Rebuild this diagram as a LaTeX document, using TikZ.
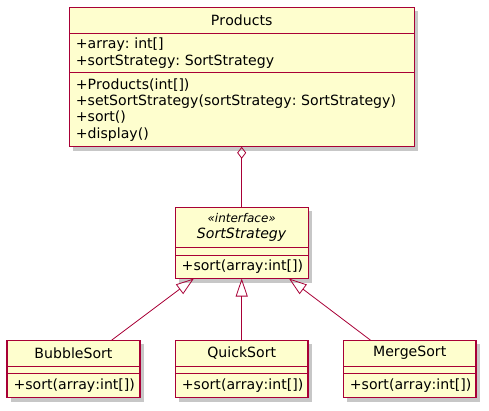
\documentclass[tikz,border=0pt]{standalone}
\usepackage{fontspec}
\setmainfont{DejaVu Sans}[Kerning=Off]
\usepackage{tikz}
\usetikzlibrary{positioning,shadows,arrows.meta}
\tikzstyle{classbox} = [rectangle, draw=umlred, fill=umlyellow, line width=1.1pt, inner xsep=6.5pt, inner ysep=0pt, outer sep=0pt, font=\fontsize{14.1}{16.3}\selectfont\frenchspacing, drop shadow={shadow xshift=4pt, shadow yshift=-4pt, fill=black!22, opacity=1}]
\tikzstyle{classhead} = [classbox, align=center, minimum height=26.2pt]
\tikzstyle{classpart} = [classbox, align=left]
\tikzstyle{aggr} = [draw=umlred, line width=0.8pt, {Diamond[open, length=12pt, width=9pt]}-]
\tikzstyle{inherit} = [draw=umlred, line width=0.8pt, -{Triangle[open, length=18pt, width=12pt]}]
\definecolor{umlred}{RGB}{168,0,54}
\definecolor{umlyellow}{RGB}{254,254,206}
\newcommand{\stereo}[1]{{\fontsize{12}{14}\selectfont\itshape «#1»}}

\begin{document}
\begin{tikzpicture}[x=1pt, y=1pt, node distance=0pt]
\useasboundingbox (0,0) rectangle (489,-411);
% context class
\node (prod) [classhead, text width=331.7pt, anchor=north] at (241.7,-7.3) {Products};
\node (prodattr) [classpart, text width=331.7pt, minimum height=39.4pt, below=of prod] {+array: int[]\\+sortStrategy: SortStrategy};
\node (prodops) [classpart, text width=331.7pt, minimum height=73.9pt, below=of prodattr] {+Products(int[])\\+setSortStrategy(sortStrategy: SortStrategy)\\+sort()\\+display()};
% strategy interface
\node (strategy) [classhead, text width=120pt, minimum height=39.6pt, below=60.7pt of prodops] {\stereo{interface}\\\textit{SortStrategy}};
\node (strategyattr) [classpart, text width=120pt, minimum height=8.4pt, below=of strategy] {};
\node (strategyops) [classpart, text width=120pt, minimum height=23pt, below=of strategyattr] {+sort(array:int[])};
% concrete strategies
\node (quick) [classhead, text width=119.6pt, below=61.6pt of strategyops] {QuickSort};
\node (quickattr) [classpart, text width=119.6pt, minimum height=7.6pt, below=of quick] {};
\node (quickops) [classpart, text width=119.6pt, minimum height=23.7pt, below=of quickattr] {+sort(array:int[])};
\node (bubble) [classhead, text width=120pt, left=35.4pt of quick] {BubbleSort};
\node (bubbleattr) [classpart, text width=120pt, minimum height=7.6pt, below=of bubble] {};
\node (bubbleops) [classpart, text width=120pt, minimum height=23.7pt, below=of bubbleattr] {+sort(array:int[])};
\node (merge) [classhead, text width=119.6pt, right=35.4pt of quick] {MergeSort};
\node (mergeattr) [classpart, text width=119.6pt, minimum height=7.6pt, below=of merge] {};
\node (mergeops) [classpart, text width=119.6pt, minimum height=23.7pt, below=of mergeattr] {+sort(array:int[])};
% relations
\draw[aggr] (prodops.south) -- (strategy.north);
\draw[inherit] ([xshift=38.2pt]bubble.north) -- ([xshift=-47.8pt]strategyops.south);
\draw[inherit] (quick.north) -- (strategyops.south);
\draw[inherit] ([xshift=-39.3pt]merge.north) -- ([xshift=47.2pt]strategyops.south);
\end{tikzpicture}
\end{document}
